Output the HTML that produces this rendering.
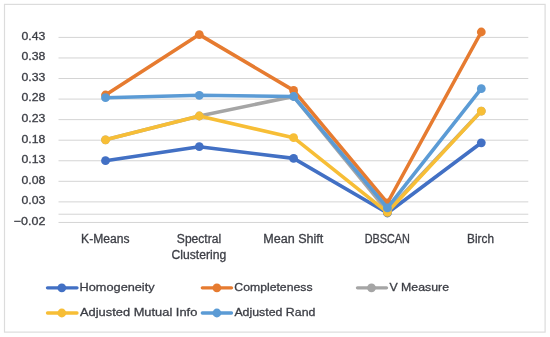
<!DOCTYPE html>
<html><head><meta charset="utf-8"><title>Clustering metrics</title>
<style>
html,body{margin:0;padding:0;background:#fff;}
body{width:550px;height:337px;overflow:hidden;}
svg{display:block;}
text{font-family:"Liberation Sans",sans-serif;fill:#3c3e45;stroke:#3c3e45;stroke-width:0.3px;}
</style></head><body>
<svg width="550" height="337" viewBox="0 0 550 337">
<rect x="0" y="0" width="550" height="337" fill="#ffffff"/>
<rect x="4.5" y="4.4" width="540.6" height="327.7" fill="#ffffff" stroke="#dcdcdc" stroke-width="1.2"/>

<g stroke="#d4d4d4" stroke-width="1" fill="none">
<line x1="58.5" y1="37.40" x2="528.3" y2="37.40"/>
<line x1="58.5" y1="57.96" x2="528.3" y2="57.96"/>
<line x1="58.5" y1="78.52" x2="528.3" y2="78.52"/>
<line x1="58.5" y1="99.08" x2="528.3" y2="99.08"/>
<line x1="58.5" y1="119.64" x2="528.3" y2="119.64"/>
<line x1="58.5" y1="140.20" x2="528.3" y2="140.20"/>
<line x1="58.5" y1="160.76" x2="528.3" y2="160.76"/>
<line x1="58.5" y1="181.32" x2="528.3" y2="181.32"/>
<line x1="58.5" y1="201.88" x2="528.3" y2="201.88"/>
<line x1="58.5" y1="222.44" x2="528.3" y2="222.44"/>
<line x1="58.5" y1="214.22" x2="528.3" y2="214.22"/>
</g>
<g font-size="11" text-anchor="end">
<text x="45.4" y="39.70" textLength="23.9" lengthAdjust="spacingAndGlyphs">0.43</text>
<text x="45.4" y="60.26" textLength="23.9" lengthAdjust="spacingAndGlyphs">0.38</text>
<text x="45.4" y="80.82" textLength="23.9" lengthAdjust="spacingAndGlyphs">0.33</text>
<text x="45.4" y="101.38" textLength="23.9" lengthAdjust="spacingAndGlyphs">0.28</text>
<text x="45.4" y="121.94" textLength="23.9" lengthAdjust="spacingAndGlyphs">0.23</text>
<text x="45.4" y="142.50" textLength="23.9" lengthAdjust="spacingAndGlyphs">0.18</text>
<text x="45.4" y="163.06" textLength="23.9" lengthAdjust="spacingAndGlyphs">0.13</text>
<text x="45.4" y="183.62" textLength="23.9" lengthAdjust="spacingAndGlyphs">0.08</text>
<text x="45.4" y="204.18" textLength="23.9" lengthAdjust="spacingAndGlyphs">0.03</text>
<text x="45.4" y="224.74" textLength="31.6" lengthAdjust="spacingAndGlyphs">−0.02</text>
</g>
<g stroke="#4270C4" fill="#4270C4"><polyline points="105.5,160.7 199.3,146.7 293.6,158.4 387.4,213.0 481.3,142.8" fill="none" stroke-width="3.6" stroke-linejoin="round" stroke-linecap="round"/>
<circle cx="105.5" cy="160.7" r="4.4" stroke="none"/>
<circle cx="199.3" cy="146.7" r="4.4" stroke="none"/>
<circle cx="293.6" cy="158.4" r="4.4" stroke="none"/>
<circle cx="387.4" cy="213.0" r="4.4" stroke="none"/>
<circle cx="481.3" cy="142.8" r="4.4" stroke="none"/>
</g>
<g stroke="#E67B30" fill="#E67B30"><polyline points="105.5,95.0 199.3,34.6 293.6,90.4 387.4,203.0 481.3,32.0" fill="none" stroke-width="3.6" stroke-linejoin="round" stroke-linecap="round"/>
<circle cx="105.5" cy="95.0" r="4.4" stroke="none"/>
<circle cx="199.3" cy="34.6" r="4.4" stroke="none"/>
<circle cx="293.6" cy="90.4" r="4.4" stroke="none"/>
<circle cx="387.4" cy="203.0" r="4.4" stroke="none"/>
<circle cx="481.3" cy="32.0" r="4.4" stroke="none"/>
</g>
<g stroke="#A5A5A5" fill="#A5A5A5"><polyline points="105.5,139.8 199.3,116.0 293.6,96.5 387.4,211.0 481.3,111.1" fill="none" stroke-width="3.6" stroke-linejoin="round" stroke-linecap="round"/>
<circle cx="105.5" cy="139.8" r="4.4" stroke="none"/>
<circle cx="199.3" cy="116.0" r="4.4" stroke="none"/>
<circle cx="293.6" cy="96.5" r="4.4" stroke="none"/>
<circle cx="387.4" cy="211.0" r="4.4" stroke="none"/>
<circle cx="481.3" cy="111.1" r="4.4" stroke="none"/>
</g>
<g stroke="#F7BE36" fill="#F7BE36"><polyline points="105.5,139.8 199.3,116.0 293.6,137.7 387.4,212.3 481.3,111.1" fill="none" stroke-width="3.6" stroke-linejoin="round" stroke-linecap="round"/>
<circle cx="105.5" cy="139.8" r="4.4" stroke="none"/>
<circle cx="199.3" cy="116.0" r="4.4" stroke="none"/>
<circle cx="293.6" cy="137.7" r="4.4" stroke="none"/>
<circle cx="387.4" cy="212.3" r="4.4" stroke="none"/>
<circle cx="481.3" cy="111.1" r="4.4" stroke="none"/>
</g>
<g stroke="#5B9BD5" fill="#5B9BD5"><polyline points="105.5,97.7 199.3,95.3 293.6,96.5 387.4,207.9 481.3,88.7" fill="none" stroke-width="3.6" stroke-linejoin="round" stroke-linecap="round"/>
<circle cx="105.5" cy="97.7" r="4.4" stroke="none"/>
<circle cx="199.3" cy="95.3" r="4.4" stroke="none"/>
<circle cx="293.6" cy="96.5" r="4.4" stroke="none"/>
<circle cx="387.4" cy="207.9" r="4.4" stroke="none"/>
<circle cx="481.3" cy="88.7" r="4.4" stroke="none"/>
</g>
<g font-size="12">
<text x="105.3" y="243.3" text-anchor="middle" textLength="48.4" lengthAdjust="spacingAndGlyphs">K-Means</text>
<text x="199" y="243.3" text-anchor="middle" textLength="44.3" lengthAdjust="spacingAndGlyphs">Spectral</text>
<text x="198.9" y="259.1" text-anchor="middle" textLength="54.7" lengthAdjust="spacingAndGlyphs">Clustering</text>
<text x="293.3" y="243.3" text-anchor="middle" textLength="60" lengthAdjust="spacingAndGlyphs">Mean Shift</text>
<text x="387.3" y="243.3" text-anchor="middle" textLength="45.2" lengthAdjust="spacingAndGlyphs">DBSCAN</text>
<text x="480.5" y="243.3" text-anchor="middle" textLength="26.9" lengthAdjust="spacingAndGlyphs">Birch</text>
</g>
<g font-size="11.6">
<line x1="47.5" y1="287.8" x2="77" y2="287.8" stroke="#4270C4" stroke-width="3.3" stroke-linecap="round"/><circle cx="61.8" cy="287.8" r="4.4" fill="#4270C4"/><text x="79.6" y="290.5" text-anchor="start" textLength="75.0" lengthAdjust="spacingAndGlyphs">Homogeneity</text>
<line x1="202.3" y1="287.8" x2="231.5" y2="287.8" stroke="#E67B30" stroke-width="3.3" stroke-linecap="round"/><circle cx="216.9" cy="287.8" r="4.4" fill="#E67B30"/><text x="234.3" y="290.5" text-anchor="start" textLength="78.2" lengthAdjust="spacingAndGlyphs">Completeness</text>
<line x1="357.5" y1="287.8" x2="386.5" y2="287.8" stroke="#A5A5A5" stroke-width="3.3" stroke-linecap="round"/><circle cx="371.5" cy="287.8" r="4.4" fill="#A5A5A5"/><text x="389.4" y="290.5" text-anchor="start" textLength="59.6" lengthAdjust="spacingAndGlyphs">V Measure</text>
<line x1="47.5" y1="313.0" x2="77" y2="313.0" stroke="#F7BE36" stroke-width="3.3" stroke-linecap="round"/><circle cx="61.8" cy="313.0" r="4.4" fill="#F7BE36"/><text x="80.0" y="315.5" text-anchor="start" textLength="117.3" lengthAdjust="spacingAndGlyphs">Adjusted Mutual Info</text>
<line x1="202.3" y1="313.0" x2="231.5" y2="313.0" stroke="#5B9BD5" stroke-width="3.3" stroke-linecap="round"/><circle cx="216.9" cy="313.0" r="4.4" fill="#5B9BD5"/><text x="234.4" y="315.5" text-anchor="start" textLength="81.0" lengthAdjust="spacingAndGlyphs">Adjusted Rand</text>
</g>
</svg></body></html>
